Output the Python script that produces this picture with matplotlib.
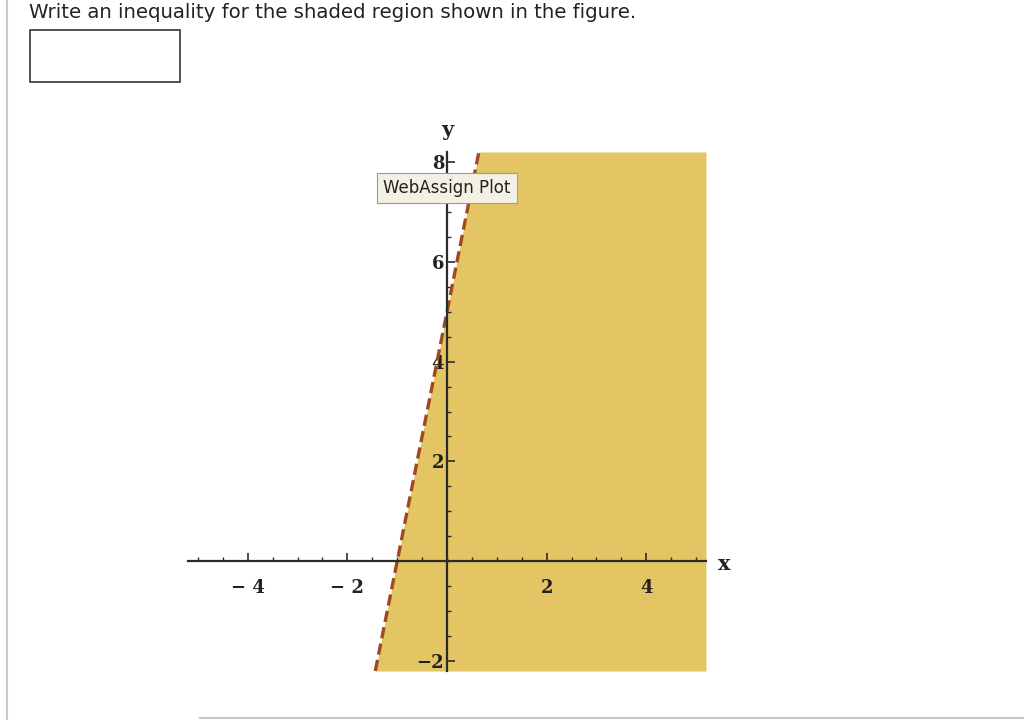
import matplotlib
matplotlib.use("Agg")
import matplotlib.pyplot as plt
import numpy as np
from matplotlib.ticker import MultipleLocator
from matplotlib.patches import Rectangle
from matplotlib.lines import Line2D

# data
slope = 5.0
intercept = 5.0
x_limits = [-5.2, 5.2]
y_limits = [-2.2, 8.2]
x_tick_labels = [-4, -2, 2, 4]
y_tick_labels = [-2, 2, 4, 6, 8]

W, H = 1024, 720
fig = plt.figure(figsize=(W / 100, H / 100), dpi=100)
fig.patch.set_facecolor("white")

def fx(px):
    return px / W

def fy(py):
    return 1 - py / H

left, right, top, bottom = 188, 706, 152, 671
ax = fig.add_axes([fx(left), fy(bottom), (right - left) / W, (bottom - top) / H])
ax.set_xlim(*x_limits)
ax.set_ylim(*y_limits)
ax.patch.set_alpha(0)

ys = np.array(y_limits)
xs_line = (ys - intercept) / slope
ax.fill_betweenx(ys, xs_line, x_limits[1], color="#E3C563", zorder=1, linewidth=0)
ax.plot(xs_line, ys, color="#9E4A1E", linestyle=(0, (3.4, 1.6)), linewidth=2.4, zorder=3)

for s in ["top", "right"]:
    ax.spines[s].set_visible(False)
ax.spines["left"].set_position(("data", 0))
ax.spines["bottom"].set_position(("data", 0))
for s in ["left", "bottom"]:
    ax.spines[s].set_color("#2b2b2b")
    ax.spines[s].set_linewidth(1.6)
    ax.spines[s].set_zorder(4)

ax.xaxis.set_major_locator(MultipleLocator(2))
ax.xaxis.set_minor_locator(MultipleLocator(0.5))
ax.yaxis.set_major_locator(MultipleLocator(2))
ax.yaxis.set_minor_locator(MultipleLocator(0.5))
ax.set_xticks(x_tick_labels)
ax.set_xticklabels([("\u2212 " + str(abs(v))) if v < 0 else str(v) for v in x_tick_labels])
ax.set_yticks(y_tick_labels)
ax.set_yticklabels([("\u2212" + str(abs(v))) if v < 0 else str(v) for v in y_tick_labels])
ax.tick_params(axis="both", which="major", direction="in", length=6, width=1.2, color="#2b2b2b")
ax.tick_params(axis="both", which="minor", direction="in", length=3, width=1.0, color="#2b2b2b")
ax.tick_params(axis="x", which="major", pad=13)
ax.tick_params(axis="y", which="major", pad=2)
for lab in ax.get_xticklabels() + ax.get_yticklabels():
    lab.set_fontfamily("DejaVu Serif")
    lab.set_fontweight("bold")
    lab.set_fontsize(13)
    lab.set_color("#222222")

fig.text(fx(447), fy(130), "y", ha="center", va="center", fontfamily="DejaVu Serif",
         fontweight="bold", fontsize=15, color="#222222")
fig.text(fx(724), fy(564), "x", ha="center", va="center", fontfamily="DejaVu Serif",
         fontweight="bold", fontsize=15, color="#222222")

# tooltip
fig.text(fx(447), fy(188), "WebAssign Plot", ha="center", va="center",
         fontfamily="DejaVu Sans", fontsize=12, color="#222222", zorder=10,
         bbox=dict(boxstyle="square,pad=0.38", facecolor="#F3F1E4", edgecolor="#9a9a9a", linewidth=0.8))

# page elements
fig.text(fx(29), fy(12), "Write an inequality for the shaded region shown in the figure.",
         ha="left", va="center", fontfamily="DejaVu Sans", fontsize=14.2, color="#222222")
fig.patches.append(Rectangle((fx(30), fy(82)), 150 / W, 52 / H, transform=fig.transFigure,
                             facecolor="white", edgecolor="#333333", linewidth=1.2))
fig.lines.append(Line2D([fx(7), fx(7)], [0, 1], transform=fig.transFigure, color="#c8c8c8", linewidth=1.5))
fig.lines.append(Line2D([fx(200), 1], [fy(718), fy(718)], transform=fig.transFigure, color="#c8c8c8", linewidth=1.5))

fig.savefig("out.png", dpi=100)
